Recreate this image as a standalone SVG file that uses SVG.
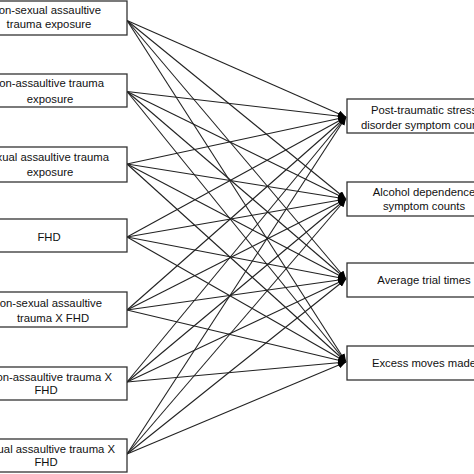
<svg xmlns="http://www.w3.org/2000/svg" width="474" height="474" viewBox="0 0 474 474">
<defs>
<style>
.box{fill:#fff;stroke:#333;stroke-width:1.3}
.t{font-family:"Liberation Sans",Arial,sans-serif;font-size:11.3px;fill:#111}
.m{text-anchor:middle}
.e{text-anchor:end}
.c line{stroke:#222;stroke-width:1.1;marker-end:url(#ah)}
</style>
<marker id="ah" markerUnits="userSpaceOnUse" markerWidth="8" markerHeight="7" refX="8" refY="3.5" orient="auto">
<path d="M0,0 L8,3.5 L0,7 z" fill="#000"/>
</marker>
</defs>
<rect width="474" height="474" fill="#fff"/>
<g class="c">
<line x1="127" y1="20.5" x2="346" y2="117"/>
<line x1="127" y1="20.5" x2="346" y2="199"/>
<line x1="127" y1="20.5" x2="346" y2="279"/>
<line x1="127" y1="20.5" x2="346" y2="362"/>
<line x1="127" y1="91.5" x2="346" y2="117"/>
<line x1="127" y1="91.5" x2="346" y2="199"/>
<line x1="127" y1="91.5" x2="346" y2="279"/>
<line x1="127" y1="91.5" x2="346" y2="362"/>
<line x1="127" y1="164" x2="346" y2="117"/>
<line x1="127" y1="164" x2="346" y2="199"/>
<line x1="127" y1="164" x2="346" y2="279"/>
<line x1="127" y1="164" x2="346" y2="362"/>
<line x1="127" y1="237" x2="346" y2="117"/>
<line x1="127" y1="237" x2="346" y2="199"/>
<line x1="127" y1="237" x2="346" y2="279"/>
<line x1="127" y1="237" x2="346" y2="362"/>
<line x1="127" y1="310" x2="346" y2="117"/>
<line x1="127" y1="310" x2="346" y2="199"/>
<line x1="127" y1="310" x2="346" y2="279"/>
<line x1="127" y1="310" x2="346" y2="362"/>
<line x1="127" y1="382" x2="346" y2="117"/>
<line x1="127" y1="382" x2="346" y2="199"/>
<line x1="127" y1="382" x2="346" y2="279"/>
<line x1="127" y1="382" x2="346" y2="362"/>
<line x1="127" y1="454" x2="346" y2="117"/>
<line x1="127" y1="454" x2="346" y2="199"/>
<line x1="127" y1="454" x2="346" y2="279"/>
<line x1="127" y1="454" x2="346" y2="362"/>
</g>
<g id="n1"><rect class="box" x="-30" y="1" width="157" height="34"/>
<text class="t e" x="101" y="14">Non-sexual assaultive</text>
<text class="t m" x="49" y="28">trauma exposure</text></g>
<g id="n2"><rect class="box" x="-30" y="74" width="157" height="33"/>
<text class="t e" x="104" y="87">Non-assaultive trauma</text>
<text class="t m" x="50" y="103">exposure</text></g>
<g id="n3"><rect class="box" x="-30" y="147" width="157" height="35"/>
<text class="t e" x="109" y="161">Sexual assaultive trauma</text>
<text class="t m" x="50" y="176">exposure</text></g>
<g id="n4"><rect class="box" x="-30" y="219" width="157" height="33"/>
<text class="t m" x="49" y="241">FHD</text></g>
<g id="n5"><rect class="box" x="-30" y="292" width="157" height="35"/>
<text class="t e" x="102" y="307">Non-sexual assaultive</text>
<text class="t m" x="53" y="322">trauma X FHD</text></g>
<g id="n6"><rect class="box" x="-30" y="367" width="157" height="33"/>
<text class="t e" x="112" y="381">Non-assaultive trauma X</text>
<text class="t m" x="46" y="394">FHD</text></g>
<g id="n7"><rect class="box" x="-30" y="439" width="157" height="33"/>
<text class="t e" x="115" y="453">Sexual assaultive trauma X</text>
<text class="t m" x="46" y="466">FHD</text></g>
<g id="r1"><rect class="box" x="347" y="99" width="160" height="34"/>
<text class="t m" x="424" y="114">Post-traumatic stress</text>
<text class="t m" x="424" y="129">disorder symptom counts</text></g>
<g id="r2"><rect class="box" x="347" y="182" width="160" height="34"/>
<text class="t m" x="424" y="196">Alcohol dependence</text>
<text class="t m" x="424" y="210">symptom counts</text></g>
<g id="r3"><rect class="box" x="347" y="263" width="160" height="34"/>
<text class="t m" x="424" y="284">Average trial times</text></g>
<g id="r4"><rect class="box" x="347" y="346" width="160" height="34"/>
<text class="t m" x="424" y="367">Excess moves made</text></g>
</svg>
